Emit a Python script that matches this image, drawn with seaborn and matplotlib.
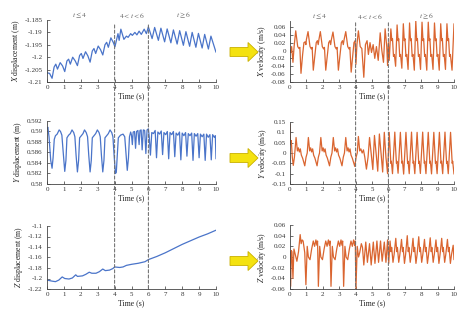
import matplotlib
matplotlib.use("Agg")
import matplotlib.pyplot as plt
import seaborn as sns
from matplotlib.patches import Polygon, ConnectionPatch

# ---------------- data ----------------
xdisp_t = [0.00, 0.15, 0.30, 0.42, 0.52, 0.62, 0.78, 0.92, 1.05, 1.18, 1.28, 1.38, 1.52, 1.67, 1.80,
           1.93, 2.03, 2.13, 2.28, 2.42, 2.55, 2.68, 2.78, 2.88, 3.03, 3.17, 3.30, 3.43, 3.53, 3.63,
           3.78, 3.92, 4.02, 4.20, 4.27, 4.37, 4.55, 4.70, 4.80, 4.95, 5.05, 5.20, 5.32, 5.45, 5.58,
           5.75, 5.88, 6.00, 6.22, 6.37, 6.59, 6.74, 6.96, 7.11, 7.33, 7.48, 7.70, 7.85, 8.07, 8.22,
           8.44, 8.59, 8.81, 8.96, 9.18, 9.33, 9.55, 9.70, 10.00]
xdisp_v = [-1.2063, -1.2065, -1.2085, -1.2040, -1.2028, -1.2048, -1.2022, -1.2035, -1.2058, -1.2015,
           -1.2008, -1.2028, -1.2000, -1.2015, -1.2034, -1.1993, -1.1985, -1.2005, -1.1978, -1.1995,
           -1.2020, -1.1975, -1.1965, -1.1985, -1.1955, -1.1970, -1.1991, -1.1950, -1.1940, -1.1960,
           -1.1922, -1.1940, -1.1958, -1.1905, -1.1932, -1.1887, -1.1928, -1.1915, -1.1920, -1.1905,
           -1.1912, -1.1900, -1.1910, -1.1895, -1.1908, -1.1887, -1.1905, -1.1878, -1.1925, -1.1880,
           -1.1932, -1.1883, -1.1938, -1.1886, -1.1942, -1.1890, -1.1947, -1.1893, -1.1952, -1.1897,
           -1.1956, -1.1900, -1.1960, -1.1904, -1.1963, -1.1908, -1.1967, -1.1915, -1.1980]

ydisp_t = [0.00, 0.05, 0.12, 0.22, 0.30, 0.36, 0.43, 0.50, 0.60, 0.72, 0.80, 0.88, 0.96, 1.05, 1.12,
           1.18, 1.28, 1.38, 1.48, 1.58, 1.65, 1.72, 1.80, 1.87, 1.93, 2.03, 2.13, 2.22, 2.32, 2.40,
           2.47, 2.55, 2.62, 2.68, 2.78, 2.88, 2.98, 3.08, 3.15, 3.22, 3.30, 3.37, 3.43, 3.53, 3.63,
           3.73, 3.83, 3.90, 3.97, 4.05, 4.10, 4.15, 4.22, 4.35, 4.50, 4.60, 4.67, 4.75, 4.82, 4.88,
           4.95, 5.00, 5.05, 5.10, 5.18, 5.24, 5.30, 5.38, 5.45, 5.50, 5.57, 5.63, 5.70, 5.78, 5.85,
           5.92, 6.00, 6.05, 6.12, 6.20, 6.30, 6.40, 6.48, 6.56, 6.66, 6.76, 6.84, 6.92, 7.02, 7.12,
           7.20, 7.28, 7.38, 7.48, 7.56, 7.64, 7.74, 7.84, 7.92, 8.00, 8.10, 8.20, 8.28, 8.36, 8.46,
           8.56, 8.64, 8.72, 8.82, 8.92, 9.00, 9.08, 9.18, 9.28, 9.36, 9.44, 9.54, 9.64, 9.72, 9.80,
           9.90, 9.96, 10.00]
ydisp_v = [0.5905, 0.5908, 0.5890, 0.5845, 0.5830, 0.5850, 0.5885, 0.5892, 0.5895, 0.5903, 0.5900,
           0.5893, 0.5860, 0.5824, 0.5845, 0.5888, 0.5893, 0.5896, 0.5903, 0.5898, 0.5890, 0.5855,
           0.5823, 0.5845, 0.5888, 0.5892, 0.5896, 0.5903, 0.5898, 0.5890, 0.5855, 0.5823, 0.5845,
           0.5888, 0.5892, 0.5896, 0.5903, 0.5898, 0.5890, 0.5855, 0.5823, 0.5845, 0.5888, 0.5892,
           0.5896, 0.5903, 0.5898, 0.5890, 0.5855, 0.5820, 0.5822, 0.5850, 0.5888, 0.5893, 0.5895,
           0.5890, 0.5860, 0.5826, 0.5850, 0.5890, 0.5899, 0.5893, 0.5875, 0.5899, 0.5900, 0.5868,
           0.5900, 0.5902, 0.5875, 0.5902, 0.5903, 0.5865, 0.5903, 0.5902, 0.5858, 0.5903, 0.5905,
           0.5890, 0.5855, 0.5898, 0.5896, 0.5902, 0.5850, 0.5899, 0.5895, 0.5901, 0.5856, 0.5898,
           0.5894, 0.5900, 0.5848, 0.5898, 0.5894, 0.5900, 0.5852, 0.5897, 0.5893, 0.5899, 0.5846,
           0.5897, 0.5892, 0.5898, 0.5853, 0.5896, 0.5892, 0.5897, 0.5845, 0.5896, 0.5891, 0.5896,
           0.5850, 0.5895, 0.5890, 0.5895, 0.5845, 0.5895, 0.5889, 0.5894, 0.5846, 0.5894, 0.5889,
           0.5892, 0.5848]

zdisp_t = [0.0, 0.3, 0.5, 0.7, 0.9, 1.05, 1.3, 1.5, 1.7, 1.8, 2.1, 2.3, 2.5, 2.65, 2.9, 3.1, 3.3,
           3.45, 3.7, 3.9, 4.0, 4.3, 4.5, 4.7, 5.0, 5.4, 5.8, 6.0, 6.5, 7.0, 7.5, 8.0, 8.5, 9.0,
           9.5, 10.0]
zdisp_v = [-1.203, -1.205, -1.206, -1.203, -1.197, -1.200, -1.201, -1.199, -1.193, -1.196, -1.195,
           -1.192, -1.188, -1.190, -1.190, -1.187, -1.182, -1.185, -1.184, -1.181, -1.178, -1.179,
           -1.178, -1.175, -1.173, -1.171, -1.168, -1.164, -1.158, -1.151, -1.143, -1.135, -1.128,
           -1.121, -1.115, -1.108]

xvel_t = [0.00, 0.05, 0.10, 0.18, 0.25, 0.35, 0.47, 0.55, 0.60, 0.67, 0.77, 0.85, 0.92, 0.97, 1.00,
          1.10, 1.22, 1.30, 1.35, 1.42, 1.52, 1.60, 1.67, 1.72, 1.76, 1.85, 1.97, 2.05, 2.10, 2.18,
          2.28, 2.36, 2.43, 2.48, 2.52, 2.62, 2.74, 2.82, 2.87, 2.95, 3.05, 3.13, 3.20, 3.25, 3.30,
          3.40, 3.52, 3.60, 3.65, 3.73, 3.83, 3.90, 3.97, 4.02, 4.08, 4.17, 4.28, 4.38, 4.50, 4.60,
          4.70, 4.78, 4.88, 4.97, 5.07, 5.17, 5.27, 5.38, 5.50, 5.60, 5.70, 5.80, 5.90, 5.95, 6.00,
          6.05, 6.15, 6.21, 6.25, 6.31, 6.36, 6.44, 6.53, 6.59, 6.63, 6.69, 6.74, 6.82, 6.91, 6.97,
          7.01, 7.07, 7.12, 7.20, 7.29, 7.35, 7.39, 7.45, 7.50, 7.58, 7.67, 7.73, 7.77, 7.83, 7.88,
          7.96, 8.05, 8.11, 8.15, 8.21, 8.26, 8.34, 8.43, 8.49, 8.53, 8.59, 8.64, 8.72, 8.81, 8.87,
          8.91, 8.97, 9.02, 9.10, 9.19, 9.25, 9.29, 9.35, 9.40, 9.48, 9.57, 9.63, 9.67, 9.73, 9.78,
          9.88, 10.00]
xvel_v = [0.000, -0.005, 0.010, -0.030, 0.010, 0.050, 0.010, 0.005, 0.008, -0.058, -0.010, 0.020,
          0.022, 0.015, 0.028, 0.048, 0.010, 0.004, 0.008, -0.050, -0.010, 0.020, 0.025, 0.015,
          0.027, 0.048, 0.010, 0.004, 0.008, -0.050, -0.010, 0.020, 0.025, 0.015, 0.027, 0.047,
          0.010, 0.004, 0.008, -0.050, -0.010, 0.020, 0.025, 0.015, 0.028, 0.048, 0.010, 0.004,
          0.008, -0.055, -0.010, 0.020, 0.025, -0.035, 0.015, 0.050, 0.010, 0.005, -0.068, 0.015,
          0.025, -0.010, 0.020, -0.005, 0.015, -0.020, 0.010, -0.025, 0.045, 0.000, -0.030, 0.055,
          0.010, -0.038, 0.020, -0.025, 0.055, 0.025, 0.030, -0.015, -0.010, -0.040, 0.065, 0.025,
          0.030, -0.015, -0.010, -0.045, 0.068, 0.025, 0.030, -0.015, -0.010, -0.048, 0.070, 0.025,
          0.030, -0.015, -0.010, -0.050, 0.075, 0.025, 0.030, -0.015, -0.010, -0.048, 0.072, 0.025,
          0.030, -0.015, -0.010, -0.050, 0.072, 0.025, 0.030, -0.015, -0.010, -0.048, 0.070, 0.025,
          0.030, -0.015, -0.010, -0.050, 0.068, 0.025, 0.030, -0.015, -0.010, -0.048, 0.068, 0.025,
          0.030, -0.015, -0.010, -0.050, 0.068]

yvel_t = [0.00, 0.03, 0.08, 0.14, 0.20, 0.27, 0.37, 0.45, 0.51, 0.57, 0.63, 0.69, 0.77, 0.90, 0.98,
          1.05, 1.12, 1.20, 1.26, 1.32, 1.38, 1.44, 1.52, 1.65, 1.73, 1.80, 1.88, 1.96, 2.02, 2.08,
          2.14, 2.20, 2.28, 2.41, 2.49, 2.56, 2.64, 2.72, 2.78, 2.84, 2.90, 2.96, 3.04, 3.17, 3.25,
          3.32, 3.40, 3.48, 3.54, 3.60, 3.66, 3.72, 3.80, 3.95, 4.03, 4.10, 4.17, 4.25, 4.32, 4.40,
          4.48, 4.56, 4.66, 4.76, 4.85, 4.95, 5.05, 5.15, 5.25, 5.35, 5.45, 5.55, 5.65, 5.75, 5.85,
          5.95, 6.05, 6.10, 6.15, 6.18, 6.25, 6.39, 6.44, 6.49, 6.52, 6.59, 6.73, 6.78, 6.83, 6.86,
          6.93, 7.07, 7.12, 7.17, 7.20, 7.27, 7.41, 7.46, 7.51, 7.54, 7.61, 7.75, 7.80, 7.85, 7.88,
          7.95, 8.09, 8.14, 8.19, 8.22, 8.29, 8.43, 8.48, 8.53, 8.56, 8.63, 8.77, 8.82, 8.87, 8.90,
          8.97, 9.11, 9.16, 9.21, 9.24, 9.31, 9.45, 9.50, 9.55, 9.58, 9.65, 9.79, 9.84, 9.89, 9.92,
          10.00]
yvel_v = [0.140, 0.040, 0.060, -0.020, -0.060, -0.020, 0.075, 0.010, 0.025, 0.005, 0.020, -0.010,
          -0.025, -0.062, -0.020, 0.000, 0.075, 0.010, 0.025, 0.005, 0.020, -0.010, -0.025, -0.062,
          -0.020, 0.000, 0.075, 0.010, 0.025, 0.005, 0.020, -0.010, -0.025, -0.062, -0.020, 0.000,
          0.075, 0.010, 0.025, 0.005, 0.020, -0.010, -0.025, -0.062, -0.020, 0.000, 0.075, 0.010,
          0.025, 0.005, 0.020, -0.010, -0.025, -0.065, -0.020, 0.000, 0.080, 0.010, 0.020, 0.000,
          0.015, -0.020, -0.078, -0.020, 0.075, 0.000, -0.080, 0.085, 0.000, -0.088, 0.092, 0.000,
          -0.092, 0.100, -0.020, -0.100, 0.100, 0.020, -0.050, -0.040, -0.100, 0.101, 0.020, -0.050,
          -0.040, -0.098, 0.100, 0.020, -0.050, -0.040, -0.102, 0.100, 0.020, -0.050, -0.040, -0.100,
          0.101, 0.020, -0.050, -0.040, -0.100, 0.100, 0.020, -0.050, -0.040, -0.099, 0.101, 0.020,
          -0.050, -0.040, -0.100, 0.100, 0.020, -0.050, -0.040, -0.101, 0.100, 0.020, -0.050, -0.040,
          -0.100, 0.100, 0.020, -0.050, -0.040, -0.100, 0.101, 0.020, -0.050, -0.040, -0.100, 0.100,
          0.020, -0.050, -0.040, -0.102]

zvel_t = [0.00, 0.04, 0.08, 0.12, 0.18, 0.24, 0.32, 0.42, 0.52, 0.62, 0.68, 0.74, 0.80, 0.90, 0.97,
          1.05, 1.12, 1.22, 1.32, 1.42, 1.50, 1.58, 1.64, 1.68, 1.73, 1.81, 1.88, 1.98, 2.08, 2.18,
          2.26, 2.34, 2.40, 2.44, 2.50, 2.58, 2.65, 2.75, 2.85, 2.95, 3.03, 3.11, 3.17, 3.21, 3.27,
          3.35, 3.42, 3.52, 3.62, 3.72, 3.80, 3.88, 3.94, 3.98, 4.02, 4.10, 4.18, 4.25, 4.35, 4.42,
          4.50, 4.62, 4.72, 4.85, 4.95, 5.08, 5.18, 5.30, 5.40, 5.52, 5.62, 5.75, 5.85, 5.95, 6.02,
          6.10, 6.16, 6.20, 6.28, 6.35, 6.45, 6.51, 6.55, 6.63, 6.70, 6.80, 6.86, 6.90, 6.98, 7.05,
          7.15, 7.21, 7.25, 7.33, 7.40, 7.50, 7.56, 7.60, 7.68, 7.75, 7.85, 7.91, 7.95, 8.03, 8.10,
          8.20, 8.26, 8.30, 8.38, 8.45, 8.55, 8.61, 8.65, 8.73, 8.80, 8.90, 8.96, 9.00, 9.08, 9.15,
          9.25, 9.31, 9.35, 9.43, 9.50, 9.60, 9.66, 9.70, 9.78, 9.85, 9.95, 10.00]
zvel_v = [0.010, -0.055, 0.012, 0.010, -0.040, 0.015, 0.005, -0.008, 0.010, 0.042, 0.025, 0.032,
          0.030, 0.008, -0.052, 0.020, 0.000, -0.005, 0.015, 0.030, 0.020, 0.032, 0.022, 0.030,
          -0.055, 0.020, 0.000, -0.005, 0.015, 0.030, 0.020, 0.032, 0.022, 0.030, -0.055, 0.020,
          0.000, -0.005, 0.015, 0.030, 0.020, 0.032, 0.022, 0.030, -0.055, 0.020, 0.000, -0.005,
          0.015, 0.030, 0.020, 0.032, 0.022, 0.030, -0.060, 0.020, 0.000, 0.008, 0.025, 0.018,
          -0.015, 0.028, -0.010, 0.025, -0.015, 0.028, -0.012, 0.030, -0.010, 0.030, -0.008, 0.028,
          -0.010, 0.032, -0.012, 0.030, 0.010, 0.018, -0.010, 0.005, 0.035, 0.010, 0.018, -0.010,
          0.005, 0.033, 0.010, 0.018, -0.012, 0.005, 0.040, 0.010, 0.018, -0.010, 0.005, 0.035,
          0.010, 0.018, -0.012, 0.005, 0.038, 0.010, 0.018, -0.010, 0.005, 0.033, 0.010, 0.018,
          -0.012, 0.005, 0.036, 0.010, 0.018, -0.010, 0.005, 0.032, 0.010, 0.018, -0.012, 0.005,
          0.035, 0.010, 0.018, -0.010, 0.005, 0.033, 0.010, 0.018, -0.012, 0.005, 0.022, -0.005]

x_ticks = [0, 1, 2, 3, 4, 5, 6, 7, 8, 9, 10]
xdisp_ticks = [-1.21, -1.205, -1.2, -1.195, -1.19, -1.185]
xdisp_labels = ["-1.21", "-1.205", "-1.2", "-1.195", "-1.19", "-1.185"]
ydisp_ticks = [0.58, 0.582, 0.584, 0.586, 0.588, 0.59, 0.592]
ydisp_labels = ["0.58", "0.582", "0.584", "0.586", "0.588", "0.59", "0.592"]
zdisp_ticks = [-1.22, -1.2, -1.18, -1.16, -1.14, -1.12, -1.1]
zdisp_labels = ["-1.22", "-1.2", "-1.18", "-1.16", "-1.14", "-1.12", "-1.1"]
xvel_ticks = [-0.08, -0.06, -0.04, -0.02, 0, 0.02, 0.04, 0.06]
xvel_labels = ["-0.08", "-0.06", "-0.04", "-0.02", "0", "0.02", "0.04", "0.06"]
yvel_ticks = [-0.15, -0.1, -0.05, 0, 0.05, 0.1, 0.15]
yvel_labels = ["-0.15", "-0.1", "-0.05", "0", "0.05", "0.1", "0.15"]
zvel_ticks = [-0.06, -0.04, -0.02, 0, 0.02, 0.04, 0.06]
zvel_labels = ["-0.06", "-0.04", "-0.02", "0", "0.02", "0.04", "0.06"]

phase_labels = [r"$t \leq 4$", r"$4 < t < 6$", r"$t \geq 6$"]
boundaries = [4, 6]

# ---------------- style ----------------
sns.set_theme(style="ticks")
plt.rcParams["font.family"] = ["Liberation Serif", "DejaVu Serif"]
plt.rcParams["mathtext.fontset"] = "stix"
plt.rcParams["axes.linewidth"] = 0.6

BLUE = "#4A74C9"
ORANGE = "#DA6530"
W, H = 474, 323

fig = plt.figure(figsize=(W / 100, H / 100), dpi=100)


def add_ax(x0, y_top, x1, y_bot):
    return fig.add_axes([x0 / W, 1 - y_bot / H, (x1 - x0) / W, (y_bot - y_top) / H])


panels = [
    ((47, 20, 216, 82), xdisp_t, xdisp_v, BLUE, (-1.21, -1.185), xdisp_ticks, xdisp_labels, r"$X$ displacement (m)"),
    ((47, 121, 216, 184), ydisp_t, ydisp_v, BLUE, (0.58, 0.592), ydisp_ticks, ydisp_labels, r"$Y$ displacement (m)"),
    ((47, 226, 216, 289), zdisp_t, zdisp_v, BLUE, (-1.22, -1.1), zdisp_ticks, zdisp_labels, r"$Z$ displacement (m)"),
    ((290, 21, 454, 82), xvel_t, xvel_v, ORANGE, (-0.08, 0.075), xvel_ticks, xvel_labels, r"$X$ velocity (m/s)"),
    ((290, 122, 454, 184), yvel_t, yvel_v, ORANGE, (-0.15, 0.15), yvel_ticks, yvel_labels, r"$Y$ velocity (m/s)"),
    ((290, 225, 454, 289), zvel_t, zvel_v, ORANGE, (-0.06, 0.06), zvel_ticks, zvel_labels, r"$Z$ velocity (m/s)"),
]

axes = []
for box, t, v, col, ylim, ticks, labels, ylabel in panels:
    ax = add_ax(*box)
    sns.lineplot(x=t, y=v, ax=ax, color=col, linewidth=0.9, estimator=None, sort=False)
    ax.set_xlim(0, 10)
    ax.set_ylim(*ylim)
    ax.set_xticks(x_ticks)
    ax.set_xticklabels([str(k) for k in x_ticks])
    ax.set_yticks(ticks)
    ax.set_yticklabels(labels)
    ax.tick_params(direction="in", length=2, width=0.5, labelsize=5.0, colors="#333333", pad=2)
    ax.tick_params(axis="y", pad=3)
    for s in ("top", "right"):
        ax.spines[s].set_visible(False)
    for s in ("left", "bottom"):
        ax.spines[s].set_color("#444444")
    ax.set_xlabel("Time (s)", fontsize=5.6, labelpad=2.0, color="#222222")
    ax.set_ylabel(ylabel, fontsize=5.6, labelpad=2.0, color="#222222")
    axes.append(ax)

# phase labels
for ax, xs in ((axes[0], [1.95, 5.0, 8.05]), (axes[3], [1.8, 4.9, 8.3])):
    for xx, lab in zip(xs, phase_labels):
        ax.text(xx, 1.0, lab, transform=ax.get_xaxis_transform(), ha="center", va="bottom",
                fontsize=5.4, color="#666666")

# dashed boundaries through each column
for top_ax, bot_ax, y0 in ((axes[0], axes[2], 0.92), (axes[3], axes[5], 0.97)):
    for b in boundaries:
        con = ConnectionPatch(xyA=(b, y0), coordsA=top_ax.get_xaxis_transform(),
                              xyB=(b, 0), coordsB=bot_ax.get_xaxis_transform(),
                              color="#6e6e6e", linewidth=0.75, linestyle=(0, (3, 2)))
        fig.add_artist(con)

# yellow arrows between columns
for c in (52, 158, 261):
    pts = [(230, c - 4.5), (248, c - 4.5), (248, c - 9.5), (258, c), (248, c + 9.5),
           (248, c + 4.5), (230, c + 4.5)]
    poly = Polygon([(x / W, 1 - y / H) for x, y in pts], closed=True, transform=fig.transFigure,
                   facecolor="#F4E210", edgecolor="#C9B000", linewidth=0.6)
    fig.add_artist(poly)

fig.savefig("out.png", dpi=100, facecolor="white")
